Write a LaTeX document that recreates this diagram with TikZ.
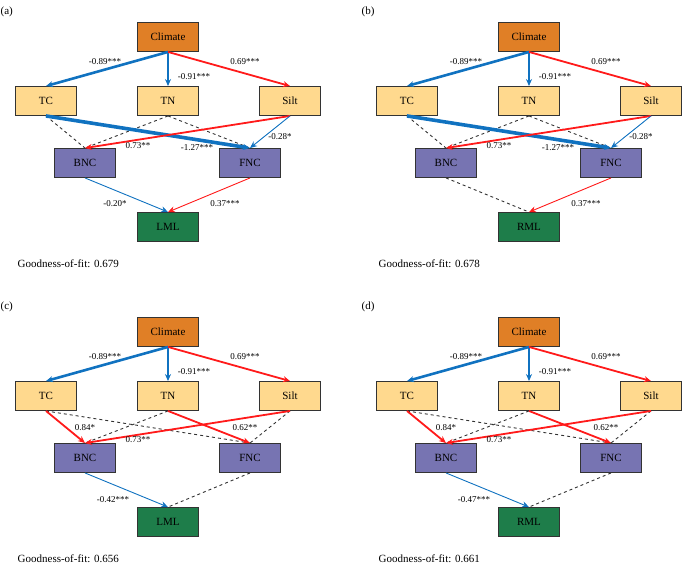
\documentclass[tikz,border=0pt]{standalone}
\usepackage{fontspec}
\setmainfont{Liberation Serif}
\usetikzlibrary{arrows.meta}
\definecolor{climcol}{HTML}{E07F26}
\definecolor{soilcol}{HTML}{FFD98E}
\definecolor{neccol}{HTML}{7774B2}
\definecolor{litcol}{HTML}{1E7D4A}
\definecolor{negcol}{HTML}{1072C0}
\definecolor{poscol}{HTML}{FF1A1A}
\tikzset{
  box/.style={draw=black!80,line width=0.9pt,minimum width=61pt,minimum height=29pt,inner sep=0pt,font=\fontsize{11}{11}\selectfont},
  lab/.style={font=\fontsize{9}{9}\selectfont,inner sep=0.5pt},
  pth/.style={-{Stealth[length=7pt,width=6pt]}},
  negA/.style={pth,negcol,line width=2.6pt},
  negB/.style={pth,negcol,line width=3.6pt},
  negC/.style={pth,negcol,line width=0.9pt},
  posA/.style={pth,poscol,line width=1.8pt},
  posC/.style={pth,poscol,line width=0.9pt},
  ns/.style={dashed,black!80,line width=0.9pt},
}
% #1 prefix, #2 response, #3 panel letter, #4 fit
\newcommand\semtop[4]{
  \node[lab,font=\fontsize{11}{11}\selectfont,anchor=west] (#1-tag) at (0,12) {(#3)};
  \node[box,fill=climcol] (#1-cl) at (168,37) {Climate};
  \node[box,fill=soilcol] (#1-tc) at (46,101) {TC};
  \node[box,fill=soilcol] (#1-tn) at (168,101) {TN};
  \node[box,fill=soilcol] (#1-si) at (290,101) {Silt};
  \node[box,fill=neccol] (#1-bn) at (85,163) {BNC};
  \node[box,fill=neccol] (#1-fn) at (250,163) {FNC};
  \node[box,fill=litcol] (#1-ml) at (168,227) {#2};
  \node[lab,font=\fontsize{11}{11}\selectfont,anchor=west] (#1-gf) at (17,264) {Goodness-of-fit: #4};
  \draw[negA] (#1-cl.south) -- (#1-tc.north);
  \draw[negA] (#1-cl.south) -- (#1-tn.north);
  \draw[posA] (#1-cl.south) -- (#1-si.north);
  \node[lab] (#1-l1) at (105,62) {-0.89***};
  \node[lab] (#1-l2) at (194,77) {-0.91***};
  \node[lab] (#1-l3) at (245,62) {0.69***};
}
\begin{document}
\begin{tikzpicture}[x=1pt,y=-1pt]
\useasboundingbox (0,0) rectangle (685,564);
% (a)
\begin{scope}
  \semtop{a}{LML}{a}{0.679}
  \draw[ns] (a-tc.south) -- (a-bn.north);
  \draw[ns] (a-tn.south) -- (a-bn.north);
  \draw[ns] (a-tn.south) -- (a-fn.north);
  \draw[negB] (a-tc.south) -- (a-fn.north);
  \draw[posA] (a-si.south) -- (a-bn.north);
  \draw[negC] (a-si.south) -- (a-fn.north);
  \draw[negC] (a-bn.south) -- (a-ml.north);
  \draw[posC] (a-fn.south) -- (a-ml.north);
  \node[lab] (a-l4) at (138,146) {0.73**};
  \node[lab] (a-l5) at (197,148) {-1.27***};
  \node[lab] (a-l6) at (280,137) {-0.28*};
  \node[lab] (a-l7) at (115,204) {-0.20*};
  \node[lab] (a-l8) at (225,204) {0.37***};
\end{scope}
% (b)
\begin{scope}[shift={(361,0)}]
  \semtop{b}{RML}{b}{0.678}
  \draw[ns] (b-tc.south) -- (b-bn.north);
  \draw[ns] (b-tn.south) -- (b-bn.north);
  \draw[ns] (b-tn.south) -- (b-fn.north);
  \draw[negB] (b-tc.south) -- (b-fn.north);
  \draw[posA] (b-si.south) -- (b-bn.north);
  \draw[negC] (b-si.south) -- (b-fn.north);
  \draw[ns] (b-bn.south) -- (b-ml.north);
  \draw[posC] (b-fn.south) -- (b-ml.north);
  \node[lab] (b-l4) at (138,146) {0.73**};
  \node[lab] (b-l5) at (197,148) {-1.27***};
  \node[lab] (b-l6) at (280,137) {-0.28*};
  \node[lab] (b-l8) at (225,204) {0.37***};
\end{scope}
% (c)
\begin{scope}[shift={(0,295)}]
  \semtop{c}{LML}{c}{0.656}
  \draw[ns] (c-tc.south) -- (c-fn.north);
  \draw[ns] (c-tn.south) -- (c-bn.north);
  \draw[ns] (c-si.south) -- (c-fn.north);
  \draw[posA] (c-tc.south) -- (c-bn.north);
  \draw[posA] (c-tn.south) -- (c-fn.north);
  \draw[posA] (c-si.south) -- (c-bn.north);
  \draw[negC] (c-bn.south) -- (c-ml.north);
  \draw[ns] (c-fn.south) -- (c-ml.north);
  \node[lab] (c-l9) at (85,133) {0.84*};
  \node[lab] (c-l10) at (245,133) {0.62**};
  \node[lab] (c-l4) at (138,145) {0.73**};
  \node[lab] (c-l7) at (113,205) {-0.42***};
\end{scope}
% (d)
\begin{scope}[shift={(361,295)}]
  \semtop{d}{RML}{d}{0.661}
  \draw[ns] (d-tc.south) -- (d-fn.north);
  \draw[ns] (d-tn.south) -- (d-bn.north);
  \draw[ns] (d-si.south) -- (d-fn.north);
  \draw[posA] (d-tc.south) -- (d-bn.north);
  \draw[posA] (d-tn.south) -- (d-fn.north);
  \draw[posA] (d-si.south) -- (d-bn.north);
  \draw[negC] (d-bn.south) -- (d-ml.north);
  \draw[ns] (d-fn.south) -- (d-ml.north);
  \node[lab] (d-l9) at (85,133) {0.84*};
  \node[lab] (d-l10) at (245,133) {0.62**};
  \node[lab] (d-l4) at (138,145) {0.73**};
  \node[lab] (d-l7) at (113,205) {-0.47***};
\end{scope}
\end{tikzpicture}
\end{document}
